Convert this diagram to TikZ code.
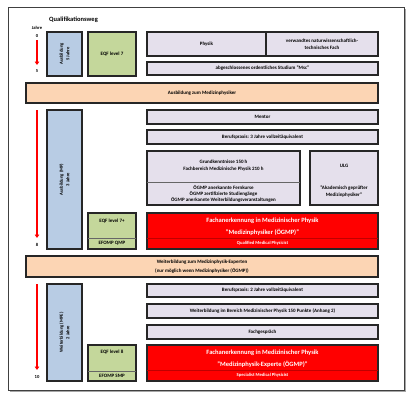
\documentclass[tikz,border=0pt]{standalone}
\usepackage{fontspec}
\setmainfont{Carlito}
\usetikzlibrary{arrows.meta}
\definecolor{bluebox}{RGB}{184,204,228}
\definecolor{greenbox}{RGB}{196,215,155}
\definecolor{lavbox}{RGB}{229,224,236}
\definecolor{orangebox}{RGB}{252,213,180}
\definecolor{redbox}{RGB}{255,0,0}
\definecolor{reddiv}{RGB}{192,0,0}
\newcommand\bx[7]{\node[#1, minimum width={(#5)-(#3)}, minimum height={(#6)-(#4)}] (#2) at ({((#3)+(#5))/2},{((#4)+(#6))/2}) {#7};}
\tikzset{
  base/.style={draw=black!85, line width=1.2pt, inner sep=0pt, align=center,
    font=\bfseries\fontsize{5}{7}\selectfont},
  blue/.style={base, fill=bluebox},
  green/.style={base, fill=greenbox},
  lav/.style={base, fill=lavbox},
  orange/.style={base, fill=orangebox},
  redb/.style={base, fill=redbox, text=white},
  txt/.style={inner sep=0pt, align=center, font=\bfseries\fontsize{5}{7}\selectfont},
  vtxt/.style={txt, rotate=90, font=\bfseries\fontsize{4.6}{6.5}\selectfont},
  bigw/.style={inner sep=0pt, align=center, text=white, font=\bfseries\fontsize{6.5}{8}\selectfont},
  smallw/.style={inner sep=0pt, align=center, text=white, font=\bfseries\fontsize{4.6}{6}\selectfont},
  yearlbl/.style={inner sep=0pt, font=\bfseries\fontsize{4.6}{6}\selectfont},
  divider/.style={black!60, line width=0.5pt},
  rdivider/.style={reddiv, line width=0.8pt},
  redarrow/.style={red, line width=1.6pt, -{Triangle[length=3.5pt,width=4.5pt]}},
}
\begin{document}
\begin{tikzpicture}[x=1pt,y=-1pt]
\useasboundingbox (0,0) rectangle (416,400);
% outer frame
\fill[black!35] (10,9) rectangle (406,392);
\draw[black!75, line width=0.9pt, fill=white] (8,7) rectangle (404,390);
\node[txt, font=\bfseries\fontsize{6.5}{8}\selectfont, anchor=west] (title) at (49,20) {Qualifikationsweg};

% ---- section 1
\node[yearlbl] (jahre) at (37,28) {Jahre};
\node[yearlbl] (y0) at (37,36) {0};
\node[yearlbl] (y5) at (37,71.5) {5};
\coordinate (a1s) at (37,40);
\coordinate (a1e) at (37,65);
\draw[redarrow] (a1s) -- (a1e);
\bx{blue}{aus1}{47}{32}{82}{76}{}
\node[vtxt] (aus1t) at (aus1.center) {Ausbildung\\5 Jahre};
\bx{green}{eqf7}{88}{32}{136}{76}{EQF level 7}
\bx{lav}{physik}{147}{32}{266}{56}{Physik}
\bx{lav}{verw}{266}{32}{378}{56}{verwandtes naturwissenschaftlich-\\technisches Fach}
\bx{lav}{msc}{147}{62}{378}{75}{abgeschlossenes ordentliches Studium "Msc"}

\bx{orange}{ausmp}{26}{83}{378}{103}{Ausbildung zum Medizinphysiker}

% ---- section 2
\node[yearlbl] (y8) at (37,245) {8};
\coordinate (a2s) at (37,110);
\coordinate (a2e) at (37,238);
\draw[redarrow] (a2s) -- (a2e);
\bx{blue}{aus2}{47}{110}{82}{249}{}
\node[vtxt] (aus2t) at (aus2.center) {Ausbildung (MP)\\3 Jahre};
\bx{lav}{mentor}{147}{110}{378}{124}{Mentor}
\bx{lav}{beruf3}{147}{130}{378}{144}{Berufspraxis: 3 Jahre vollzeitäquivalent}
\bx{lav}{grund}{147}{151}{300}{205}{}
\draw[divider] (147,182) -- (300,182);
\node[txt] (grundt) at (223.5,166) {Grundkenntnisse 150 h\\Fachbereich Medizinische Physik 210 h};
\node[txt, font=\bfseries\fontsize{5}{6}\selectfont] (oegmpt) at (223.5,193.5) {ÖGMP anerkannte Fernkurse\\ÖGMP zertifizierte Studiengänge\\ÖGMP anerkannte Weiterbildungsveranstaltungen};
\bx{lav}{ulg}{310}{151}{378}{205}{}
\node[txt] (ulgt) at (344,166) {ULG};
\node[txt] (akad) at (344,191.5) {"Akademisch geprüfter\\Medizinphysiker"};

\bx{green}{eqf7p}{88}{213}{136}{249}{}
\draw[divider] (88,238) -- (136,238);
\node[txt] (eqf7pt) at (112,221) {EQF level 7+};
\node[txt] (qmp) at (112,243.5) {EFOMP QMP};
\bx{redb}{fa1}{147}{213}{378}{249}{}
\draw[rdivider] (147,238) -- (378,238);
\node[bigw] (fa1a) at (262.5,221) {Fachanerkennung in Medizinischer Physik};
\node[bigw] (fa1b) at (262.5,232.5) {"Medizinphysiker (ÖGMP)"};
\node[smallw] (fa1c) at (262.5,243.5) {Qualified Medical Physicist};

\bx{orange}{weitmpe}{26}{256}{378}{277}{Weiterbildung zum Medizinphysik-Experten\\[1.5pt](nur möglich wenn Medizinphysiker (ÖGMP))}

% ---- section 3
\node[yearlbl] (y10) at (37,377) {10};
\coordinate (a3s) at (37,284);
\coordinate (a3e) at (37,370);
\draw[redarrow] (a3s) -- (a3e);
\bx{blue}{aus3}{47}{284}{82}{381}{}
\node[vtxt] (aus3t) at (aus3.center) {Weiterbildung (MPE)\\2 Jahre};
\bx{lav}{beruf2}{147}{284}{378}{297}{Berufspraxis: 2 Jahre vollzeitäquivalent}
\bx{lav}{weitb}{147}{304}{378}{318}{Weiterbildung im Bereich Medizinischer Physik 150 Punkte (Anhang 2)}
\bx{lav}{fachg}{147}{325}{378}{339}{Fachgespräch}
\bx{green}{eqf8}{88}{345}{136}{381}{}
\draw[divider] (88,371) -- (136,371);
\node[txt] (eqf8t) at (112,352) {EQF level 8};
\node[txt] (smp) at (112,376) {EFOMP SMP};
\bx{redb}{fa2}{147}{345}{378}{381}{}
\draw[rdivider] (147,370.5) -- (378,370.5);
\node[bigw] (fa2a) at (262.5,353) {Fachanerkennung in Medizinischer Physik};
\node[bigw] (fa2b) at (262.5,364) {"Medizinphysik-Experte (ÖGMP)"};
\node[smallw] (fa2c) at (262.5,375.5) {Specialist Medical Physicist};
\end{tikzpicture}
\end{document}
